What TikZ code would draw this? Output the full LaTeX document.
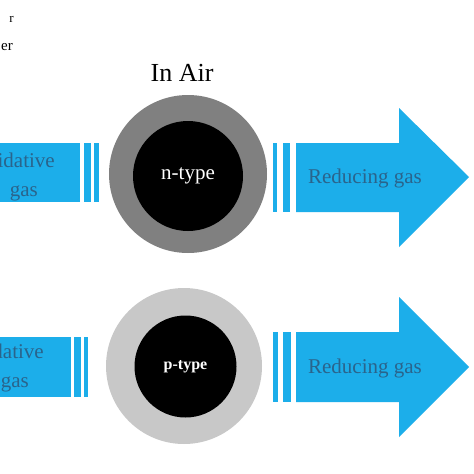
\documentclass[tikz,border=0pt]{standalone}
\usepackage{fontspec}
\setmainfont{Liberation Serif}
\definecolor{gasblue}{RGB}{28,174,234}
\definecolor{gastext}{RGB}{42,100,140}
\definecolor{ringdark}{RGB}{128,128,128}
\definecolor{ringlight}{RGB}{200,200,200}
\begin{document}
\begin{tikzpicture}[x=1pt,y=-1pt,
  gasfill/.style={fill=gasblue,draw=none},
  gaslabel/.style={text=gastext,font=\fontsize{21}{24}\selectfont,inner sep=0pt},
  ring/.style={circle,draw=none,inner sep=0pt},
  core/.style={circle,fill=black,draw=none,inner sep=0pt,text=white}]
\useasboundingbox (0,0) rectangle (474,474);
\fill[white] (0,0) rectangle (474,474);
% corner fragments
\node[anchor=base east,inner sep=0pt,font=\fontsize{13}{14}\selectfont] (fragA) at (14,22) {r};
\node[anchor=base east,inner sep=0pt,font=\fontsize{15}{16}\selectfont] (fragB) at (13,50) {er};
% title
\node[font=\fontsize{26}{28}\selectfont,inner sep=0pt] (title) at (182,73) {In Air};
% top row
\fill[gasfill] (-5,143) rectangle (80,202);
\fill[gasfill] (84,143) rectangle (91,202);
\fill[gasfill] (94,143) rectangle (99,202);
\node[gaslabel,anchor=base east] (oxA1) at (55,167) {Oxidative};
\node[gaslabel,anchor=base east] (oxA2) at (38,196) {gas};
\node[ring,fill=ringdark,minimum size=158pt] (ringA) at (188,174) {};
\node[core,minimum size=110pt,font=\fontsize{21}{24}\selectfont] (coreA) at (188,176) {n-type};
\fill[gasfill] (273,143) rectangle (277,212);
\fill[gasfill] (283,143) rectangle (290,212);
\fill[gasfill] (296,143) -- (399,143) -- (399,108) -- (469,177) -- (399,247) -- (399,212) -- (296,212) -- cycle;
\node[gaslabel] (redA) at (365,178) {Reducing gas};
% bottom row
\fill[gasfill] (-5,337) rectangle (71,397);
\fill[gasfill] (74,337) rectangle (81,397);
\fill[gasfill] (84,337) rectangle (88,397);
\node[gaslabel,anchor=base east] (oxB1) at (44,358) {Oxidative};
\node[gaslabel,anchor=base east] (oxB2) at (29,387) {gas};
\node[ring,fill=ringlight,minimum size=156pt] (ringB) at (184,366) {};
\node[core,minimum size=102pt,font=\bfseries\fontsize{16}{18}\selectfont] (coreB) at (185.5,366.5) {p-type};
\fill[gasfill] (273,332) rectangle (278,402);
\fill[gasfill] (283,332) rectangle (291,402);
\fill[gasfill] (296,332) -- (399,332) -- (399,297) -- (469,367) -- (399,437) -- (399,402) -- (296,402) -- cycle;
\node[gaslabel] (redB) at (365,368) {Reducing gas};
\end{tikzpicture}
\end{document}
